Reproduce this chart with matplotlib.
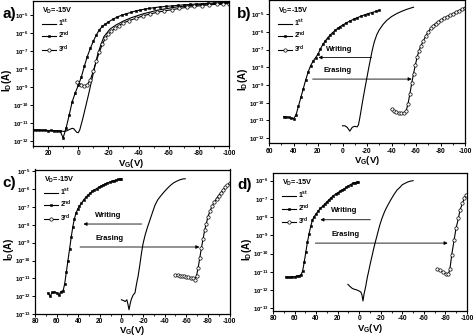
import numpy as np
import matplotlib
matplotlib.use("Agg")
import matplotlib.pyplot as plt
from matplotlib.ticker import MultipleLocator, FixedLocator, FuncFormatter, NullLocator

plt.rcParams['font.family'] = ['Liberation Sans', 'DejaVu Sans']
plt.rcParams['font.weight'] = 'bold'
plt.rcParams['axes.unicode_minus'] = False
plt.rcParams['mathtext.fontset'] = 'custom'
plt.rcParams['mathtext.rm'] = 'Liberation Sans:bold'
plt.rcParams['mathtext.bf'] = 'Liberation Sans:bold'
plt.rcParams['mathtext.it'] = 'Liberation Sans:bold'
plt.rcParams['mathtext.default'] = 'bf'

# ---------------- data (V_G in volts, log10 of I_D in amperes) ----------------
# panel a
a1_v = [30, 20, 12, 10, 8, 6, 4, 3, 2, 1, 0, -1, -3, -5, -7, -9, -11, -13, -15, -17, -21, -25, -30, -35, -43, -53, -65, -80, -100]
a1_log = [-11.37, -11.40, -11.42, -11.45, -11.43, -11.35, -11.28, -11.30, -11.40, -11.50, -11.52, -11.37, -10.75, -10.05,
          -9.35, -8.6, -7.85, -7.15, -6.65, -6.2, -5.78, -5.55, -5.33, -5.15, -4.93, -4.72, -4.55, -4.42, -4.32]
a2_v = [30, 28, 26, 24, 22, 20, 18, 16, 14, 12, 10, 8, 6, 4, 2, 0, -2, -4, -6, -8, -10, -12, -14, -16, -18, -20,
        -23, -26, -29, -32, -35, -38, -41, -44, -47, -50, -54, -58, -62, -66, -70, -74, -78, -82, -86, -90, -94, -98, -100]
a2_log = [-11.35, -11.38, -11.36, -11.40, -11.38, -11.42, -11.40, -11.43, -11.41, -11.45, -11.80, -11.25, -10.55, -9.80,
          -9.32, -8.90, -8.45, -7.85, -7.30, -6.85, -6.45, -6.10, -5.82, -5.62, -5.50, -5.38, -5.23, -5.10, -5.00, -4.92,
          -4.85, -4.77, -4.72, -4.67, -4.63, -4.59, -4.55, -4.52, -4.49, -4.46, -4.43, -4.41, -4.39, -4.37, -4.35, -4.33,
          -4.31, -4.30, -4.29]
a3_v = [1, -2, -4, -6, -8, -10, -12, -14, -16, -18, -20, -22, -24.5, -27, -30, -34, -38.5, -43, -47.5, -52, -57, -62,
        -67, -72, -77, -82, -87, -92, -96, -100]
a3_log = [-8.70, -8.85, -8.95, -8.85, -8.60, -8.10, -7.55, -7.05, -6.62, -6.28, -6.07, -5.90, -5.72, -5.58, -5.43, -5.30,
          -5.17, -5.04, -4.94, -4.85, -4.77, -4.70, -4.63, -4.57, -4.52, -4.47, -4.43, -4.40, -4.38, -4.36]

# panel b
b1_v = [0, -2, -4, -6, -8, -10, -12, -13, -14, -15, -16, -17, -18, -19, -20, -21, -22, -23, -24, -25, -26, -28, -30,
        -33, -36, -40, -44, -48, -52, -56, -58]
b1_log = [-11.30, -11.30, -11.40, -11.60, -11.38, -11.33, -11.36, -11.25, -10.90, -10.50, -10.08, -9.68, -9.30, -8.92,
          -8.55, -8.18, -7.82, -7.47, -7.13, -6.82, -6.55, -6.15, -5.88, -5.58, -5.35, -5.13, -4.97, -4.84, -4.73,
          -4.64, -4.60]
b2_v = [48, 46, 44, 42, 40, 38, 36, 34, 32, 30, 28, 26, 24, 22, 20, 18, 16, 14, 12, 10, 8, 6, 4, 2, 0, -3, -6, -9,
        -12, -15, -18, -21, -24, -27, -30]
b2_log = [-10.78, -10.80, -10.82, -10.86, -10.90, -10.70, -10.20, -9.70, -9.20, -8.70, -8.25, -7.90, -7.65, -7.45,
          -7.25, -6.95, -6.70, -6.50, -6.32, -6.17, -6.03, -5.91, -5.80, -5.70, -5.61, -5.49, -5.38, -5.28, -5.19,
          -5.11, -5.03, -4.96, -4.90, -4.84, -4.78]
b3_v = [-40, -42, -44, -46, -48, -50, -52, -53.5, -55, -56.5, -58, -59.5, -61, -62.5, -64, -66, -68, -70, -72, -74,
        -76, -78, -80, -82.5, -85, -87.5, -90, -92.5, -95, -97.5, -100]
b3_log = [-10.37, -10.47, -10.53, -10.58, -10.60, -10.59, -10.45, -10.05, -9.50, -8.90, -8.35, -7.85, -7.40, -7.05,
          -6.78, -6.50, -6.22, -5.98, -5.80, -5.64, -5.52, -5.42, -5.33, -5.23, -5.14, -5.05, -4.97, -4.88, -4.79,
          -4.70, -4.62]

# panel c
c1_v = [0, -2, -3.5, -5, -6, -7, -8, -9, -10, -11, -12.5, -14, -15.5, -17, -18.5, -20, -22, -24, -26.5, -29, -31,
        -33.5, -36, -39, -42, -45, -48, -51, -54, -57, -59]
c1_log = [-12.20, -12.25, -12.30, -12.20, -12.45, -12.76, -12.45, -12.20, -12.05, -11.92, -11.82, -11.30, -10.85,
          -10.25, -9.60, -9.05, -8.55, -8.15, -7.70, -7.25, -6.90, -6.60, -6.40, -6.18, -5.98, -5.80, -5.65, -5.55,
          -5.47, -5.42, -5.41]
c2_v = [68, 66, 64, 62, 60, 58, 56, 54, 52.5, 51, 49.5, 48, 46.5, 45, 43.5, 42, 40.5, 39, 37, 35, 33, 31, 29, 27,
        25, 23, 21, 19, 17, 15, 13, 11, 9, 7, 5, 3, 1, 0]
c2_log = [-11.82, -12.00, -11.78, -11.77, -11.80, -11.95, -11.74, -11.70, -11.30, -10.65, -10.00, -9.35, -8.70,
          -8.10, -7.65, -7.32, -7.12, -6.95, -6.78, -6.60, -6.45, -6.33, -6.22, -6.12, -6.04, -5.96, -5.89, -5.82,
          -5.76, -5.70, -5.65, -5.60, -5.56, -5.52, -5.48, -5.45, -5.42, -5.40]
c3_v = [-50, -52, -54, -56, -58, -60, -62, -64, -66, -68, -69.5, -71, -72.5, -74, -75.5, -77, -78.5, -80, -82, -84,
        -86, -88, -90, -92, -94, -96, -98, -100]
c3_log = [-10.79, -10.82, -10.85, -10.87, -10.89, -10.91, -10.94, -10.97, -11.00, -11.07, -10.85, -10.40, -9.85,
          -9.30, -8.80, -8.30, -7.95, -7.55, -7.22, -6.93, -6.72, -6.52, -6.35, -6.20, -6.05, -5.90, -5.77, -5.65]

# panel d
d1_v = [10.5, 8.5, 6.5, 4.5, 2, 0, -1.5, -2.5, -3.5, -4.5, -6, -7.5, -9, -10.5, -12, -13.5, -15, -17, -19, -21,
        -23.5, -26, -29, -32, -35, -38, -40, -42, -45, -48, -50]
d1_log = [-11.68, -11.80, -11.90, -11.95, -11.99, -12.05, -12.10, -12.25, -12.59, -12.20, -11.80, -11.30, -10.90,
          -10.48, -10.10, -9.70, -9.35, -8.90, -8.45, -8.08, -7.70, -7.40, -7.08, -6.78, -6.52, -6.35, -6.22, -6.16,
          -6.07, -6.02, -6.00]
d2_v = [68, 66, 64, 62, 60, 58, 56, 54, 52.5, 51, 49.5, 48, 46.5, 45, 43.5, 42, 40, 38, 36, 34, 32, 30, 28, 26, 24,
        22, 20, 18, 16, 14, 12, 10, 8, 6, 4, 2, 1]
d2_log = [-11.26, -11.30, -11.28, -11.25, -11.27, -11.22, -11.20, -11.16, -10.95, -10.45, -9.90, -9.35, -8.90, -8.50,
          -8.18, -7.98, -7.82, -7.65, -7.52, -7.40, -7.28, -7.16, -7.04, -6.93, -6.82, -6.74, -6.66, -6.59, -6.52,
          -6.45, -6.37, -6.28, -6.21, -6.15, -6.11, -6.08, -6.07]
d3_v = [-72.5, -75, -77.4, -80.5, -82.7, -84.2, -85.8, -88, -89.8, -92, -93.5, -95.7, -97.5, -99.1]
d3_log = [-10.82, -10.91, -11.00, -11.09, -11.13, -10.82, -10.08, -9.26, -8.62, -8.07, -7.61, -7.25, -6.97, -6.79]

panel_names = ['a)', 'b)', 'c)', 'd)']
legend_title = r'V$_D$=-15V'
series_labels = [r'1$^{st}$', r'2$^{nd}$', r'3$^{rd}$']

# annotations: (tail V, tail log, head V, head log), text (V, log)
arrows = {
    'b': [('Writing', (-23.8, -7.44, 19.7, -7.44), (3.0, -7.0)),
          ('Erasing', (24.4, -8.66, -56.5, -8.66), (4.0, -8.20))],
    'c': [('Writing', (-18.8, -7.95, 35.2, -7.95), (12.0, -7.47)),
          ('Erasing', (38.3, -9.24, -72.2, -9.24), (11.0, -8.78))],
    'd': [('Writing', (-10.3, -8.14, 36.1, -8.14), (14.0, -7.65)),
          ('Erasing', (40.7, -9.42, -82.1, -9.42), (13.0, -8.97))],
}

# ---------------- figure ----------------
W, H = 474, 336
fig = plt.figure(figsize=(W / 100, H / 100), dpi=100)


def add_ax(left, right, top, bottom):
    return fig.add_axes([left / W, 1 - bottom / H, (right - left) / W, (bottom - top) / H])


panels = {
    'a': dict(box=(33, 229, 0.5, 146), xlim=(30, -100), ylog=(-12.26, -4.19),
              data=[(a1_v, a1_log), (a2_v, a2_log), (a3_v, a3_log)], lab=(9, 14), xpad=-0.5),
    'b': dict(box=(269, 465, 0.5, 143.5), xlim=(60, -100), ylog=(-12.30, -4.22),
              data=[(b1_v, b1_log), (b2_v, b2_log), (b3_v, b3_log)], lab=(244, 14), xpad=-0.5),
    'c': dict(box=(35, 229.5, 169.5, 314), xlim=(80, -100), ylog=(-13.0, -4.89),
              data=[(c1_v, c1_log), (c2_v, c2_log), (c3_v, c3_log)], lab=(9, 183), xpad=-0.8),
    'd': dict(box=(273, 467, 173, 311), xlim=(80, -100), ylog=(-13.14, -5.58),
              data=[(d1_v, d1_log), (d2_v, d2_log), (d3_v, d3_log)], lab=(245, 185), xpad=-0.6),
}

styles = [dict(marker=None),
          dict(marker='s', ms=2.0, mfc='k', mec='k', mew=0.4),
          dict(marker='o', ms=2.4, mfc='white', mec='k', mew=0.5)]

fmt = FuncFormatter(lambda v, p: r'$10^{%d}$' % int(round(np.log10(v))))

for key, cfg in panels.items():
    l, r, t, b = cfg['box']
    ax = add_ax(l, r, t, b)
    handles = []
    for (vv, ll), st, lbl in zip(cfg['data'], styles, series_labels):
        h, = ax.plot(vv, 10 ** np.array(ll), color='k', lw=0.8, label=lbl, **st)
        handles.append(h)
    ax.set_yscale('log')
    ax.set_xlim(*cfg['xlim'])
    ax.set_ylim(10 ** cfg['ylog'][0], 10 ** cfg['ylog'][1])
    lo = int(np.ceil(cfg['ylog'][0]))
    hi = int(np.floor(cfg['ylog'][1]))
    ax.yaxis.set_major_locator(FixedLocator([10.0 ** k for k in range(lo, hi + 1)]))
    ax.yaxis.set_major_formatter(fmt)
    ax.yaxis.set_minor_locator(NullLocator())
    ax.xaxis.set_major_locator(MultipleLocator(20))
    ax.xaxis.set_minor_locator(MultipleLocator(10))
    ax.tick_params(axis='x', which='major', direction='out', length=2.2, width=0.7,
                   labelsize=4.8, pad=1.0)
    ax.tick_params(axis='y', which='major', direction='out', length=2.2, width=0.7,
                   labelsize=4.4, pad=1.0)
    ax.tick_params(axis='both', which='minor', direction='out', length=1.3, width=0.6)
    for s in ax.spines.values():
        s.set_linewidth(0.9)
    ax.set_xlabel(r'V$_G$(V)', fontsize=6.8, fontweight='bold', labelpad=cfg['xpad'])
    ax.set_ylabel(r'I$_D$(A)', fontsize=7, fontweight='bold', labelpad=1)
    ax.yaxis.set_label_coords(-0.098, 0.45)
    leg = ax.legend(handles=handles, title=legend_title, loc='upper left',
                    bbox_to_anchor=(0.02, 1.0), frameon=False, fontsize=5.0,
                    title_fontsize=5.3, handlelength=2.0, handletextpad=0.3,
                    labelspacing=0.3, borderpad=0.2, alignment='left')
    for txt in leg.get_texts():
        txt.set_fontweight('bold')
    leg.get_title().set_fontweight('bold')
    for name, (tv, tl, hv, hl), (xv, xl) in arrows.get(key, []):
        ax.annotate('', xy=(hv, 10 ** hl), xytext=(tv, 10 ** tl),
                    arrowprops=dict(arrowstyle='-|>', lw=0.6, color='k', mutation_scale=5,
                                    shrinkA=0, shrinkB=0))
        ax.text(xv, 10 ** xl, name, fontsize=5.5, fontweight='bold', ha='center', va='center')
    lx, ly = cfg['lab']
    fig.text(lx / W, 1 - ly / H, panel_names['abcd'.index(key)], fontsize=11,
             fontweight='bold', ha='center', va='center')

fig.savefig('out.png', dpi=100)
